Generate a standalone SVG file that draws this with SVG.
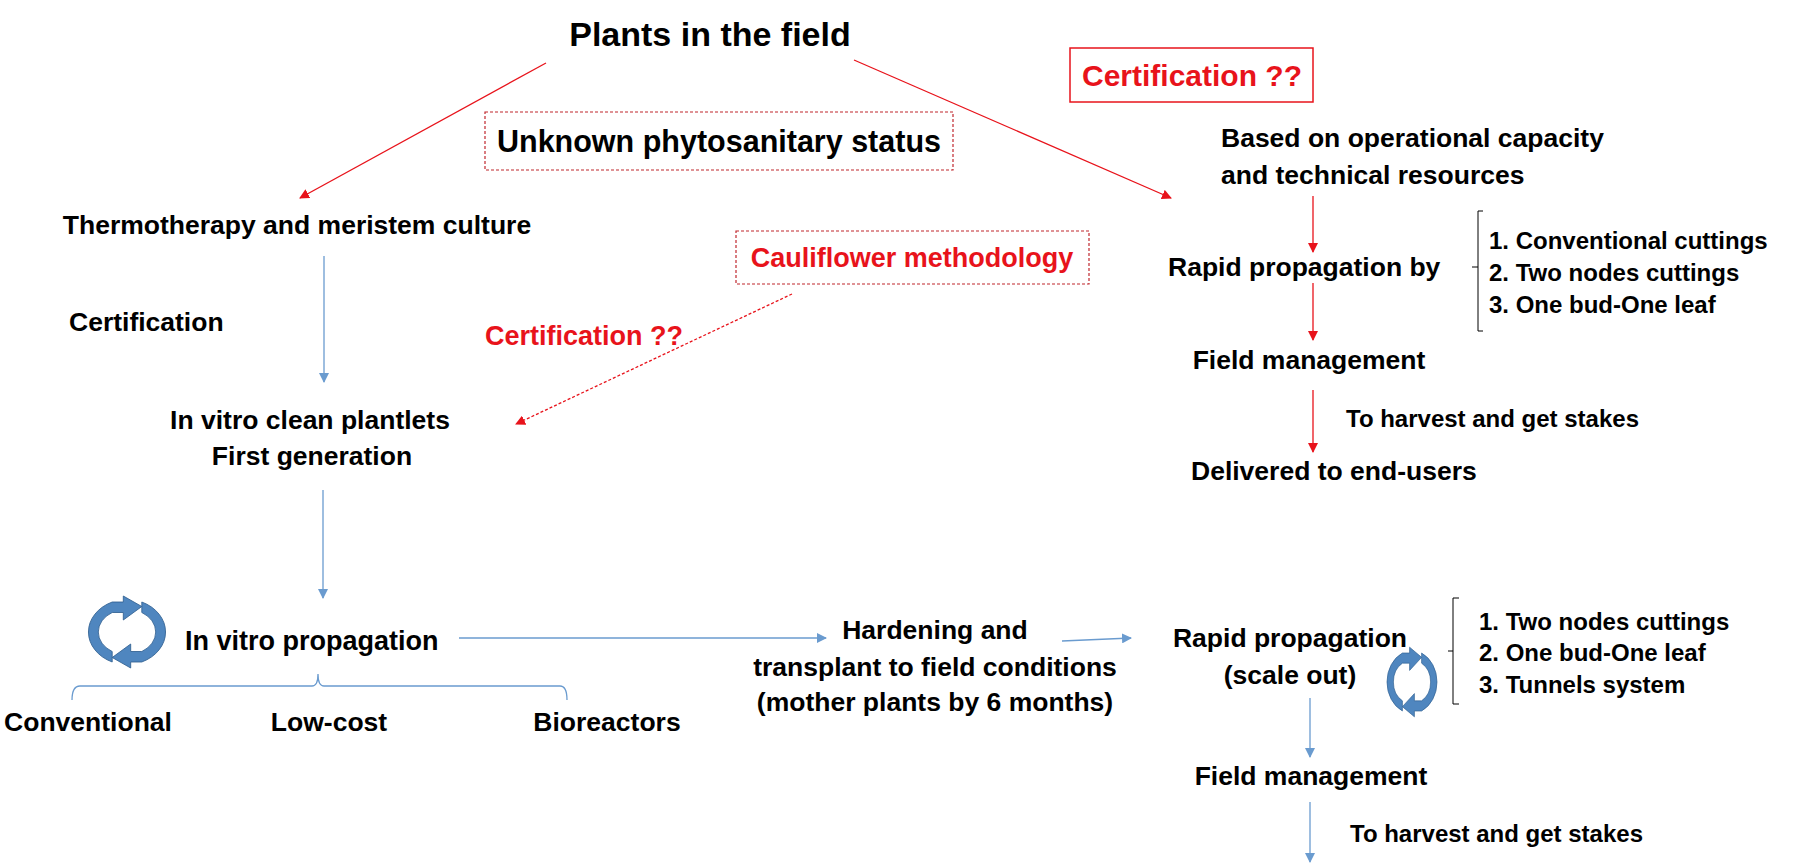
<svg xmlns="http://www.w3.org/2000/svg" width="1812" height="865" viewBox="0 0 1812 865">
<style>
text{font-family:"Liberation Sans",Arial,sans-serif;font-weight:bold;fill:#000;font-size:26.5px}
.r{fill:#e8131b}
.c{text-anchor:middle}
.s{font-size:24px}
.rl{stroke:#e8131b;stroke-width:1.3;fill:none}
.bl{stroke:#6a9bcf;stroke-width:1.3;fill:none}
.cyc{fill:#4f86bf;stroke:#2f5f90;stroke-width:0.5}
</style>
<defs>
<marker id="ra" markerWidth="10" markerHeight="10" refX="9" refY="5" orient="auto" markerUnits="userSpaceOnUse"><path d="M0,0 L10,5 L0,10 z" fill="#e8131b"/></marker>
<marker id="ba" markerWidth="10" markerHeight="10" refX="9" refY="5" orient="auto" markerUnits="userSpaceOnUse"><path d="M0,0 L10,5 L0,10 z" fill="#6a9bcf"/></marker>
<g id="cycle">
<path class="cyc" d="M-8,-20 A22,22 0 0 0 -8,20 L-8,13 A15,15 0 0 1 -8,-13 L-2,-13 L-2,-8 L8,-17 L-2,-24 L-2,-20 Z"/>
<path class="cyc" d="M8,20 A22,22 0 0 0 8,-20 L8,-13 A15,15 0 0 1 8,13 L2,13 L2,8 L-8,17 L2,24 L2,20 Z"/>
</g>
</defs>
<rect width="1812" height="865" fill="#fff"/>
<g id="connectors">
<line class="rl" x1="546" y1="63" x2="300" y2="198" marker-end="url(#ra)"/>
<line class="rl" x1="854" y1="60" x2="1171" y2="198" marker-end="url(#ra)"/>
<line class="rl" x1="1313" y1="196" x2="1313" y2="252" marker-end="url(#ra)"/>
<line class="rl" x1="1313" y1="283" x2="1313" y2="340" marker-end="url(#ra)"/>
<line class="rl" x1="1313" y1="390" x2="1313" y2="452" marker-end="url(#ra)"/>
<line class="rl" x1="792" y1="294" x2="516" y2="424" stroke-dasharray="3,2" marker-end="url(#ra)"/>
<line class="bl" x1="324" y1="256" x2="324" y2="382" marker-end="url(#ba)"/>
<line class="bl" x1="323" y1="490" x2="323" y2="598" marker-end="url(#ba)"/>
<line class="bl" x1="459" y1="638" x2="826" y2="638" marker-end="url(#ba)"/>
<line class="bl" x1="1062" y1="641" x2="1131" y2="638" marker-end="url(#ba)"/>
<line class="bl" x1="1310" y1="698" x2="1310" y2="757" marker-end="url(#ba)"/>
<line class="bl" x1="1310" y1="802" x2="1310" y2="862" marker-end="url(#ba)"/>
<path class="bl" d="M72,700 Q72,686 80,686 L312,686 Q318,686 318,674 Q318,686 324,686 L560,686 Q567,686 567,700"/>
<path d="M1483,211 L1478,211 L1478,331 L1483,331 M1478,267 L1472,267" stroke="#000" stroke-width="1" fill="none"/>
<path d="M1459,598 L1453,598 L1453,704 L1459,704 M1453,651 L1448,651" stroke="#000" stroke-width="1" fill="none"/>
</g>
<g id="plants"><text class="c" x="710" y="46" style="font-size:34px">Plants in the field</text></g>
<g id="cert1"><rect x="1070" y="48" width="243" height="54" fill="none" stroke="#e8131b" stroke-width="1.5"/><text class="c r" x="1192" y="86" style="font-size:30px">Certification ??</text></g>
<g id="unknown"><rect x="485" y="112" width="468" height="58" fill="none" stroke="#c0272d" stroke-width="1.2" stroke-dasharray="3,2"/><text class="c" x="719" y="152" style="font-size:30.5px">Unknown phytosanitary status</text></g>
<g id="based"><text x="1221" y="147">Based on operational capacity</text><text x="1221" y="184">and technical resources</text></g>
<g id="rapid1"><text x="1168" y="276">Rapid propagation by</text></g>
<g id="list1"><text class="s" x="1489" y="249">1. Conventional cuttings</text><text class="s" x="1489" y="281">2. Two nodes cuttings</text><text class="s" x="1489" y="313">3. One bud-One leaf</text></g>
<g id="field1"><text class="c" x="1309" y="369">Field management</text></g>
<g id="harvest1"><text class="s" x="1346" y="427">To harvest and get stakes</text></g>
<g id="delivered"><text x="1191" y="480">Delivered to end-users</text></g>
<g id="thermo"><text class="c" x="297" y="234">Thermotherapy and meristem culture</text></g>
<g id="certification"><text x="69" y="331">Certification</text></g>
<g id="cauli"><rect x="736" y="231" width="353" height="53" fill="none" stroke="#c0272d" stroke-width="1.2" stroke-dasharray="3,2"/><text class="c r" x="912" y="267" style="font-size:27px">Cauliflower methodology</text></g>
<g id="cert2"><text class="c r" x="584" y="345" style="font-size:27px">Certification ??</text></g>
<g id="invitro"><text class="c" x="310" y="429">In vitro clean plantlets</text><text class="c" x="312" y="465">First generation</text></g>
<g id="prop"><use href="#cycle" transform="translate(127,632) scale(1.85,1.5)"/><text x="185" y="650" style="font-size:27px">In vitro propagation</text></g>
<g id="conv"><text class="c" x="88" y="731">Conventional</text></g>
<g id="low"><text class="c" x="329" y="731">Low-cost</text></g>
<g id="bio"><text class="c" x="607" y="731">Bioreactors</text></g>
<g id="hard"><text class="c" x="935" y="639">Hardening and</text><text class="c" x="935" y="676">transplant to field conditions</text><text class="c" x="935" y="711">(mother plants by 6 months)</text></g>
<g id="rapid2"><text class="c" x="1290" y="647">Rapid propagation</text><text class="c" x="1290" y="684">(scale out)</text><use href="#cycle" transform="translate(1412,682) scale(1.2,1.45)"/></g>
<g id="list2"><text class="s" x="1479" y="630">1. Two nodes cuttings</text><text class="s" x="1479" y="661">2. One bud-One leaf</text><text class="s" x="1479" y="693">3. Tunnels system</text></g>
<g id="field2"><text class="c" x="1311" y="785">Field management</text></g>
<g id="harvest2"><text class="s" x="1350" y="842">To harvest and get stakes</text></g>
</svg>
